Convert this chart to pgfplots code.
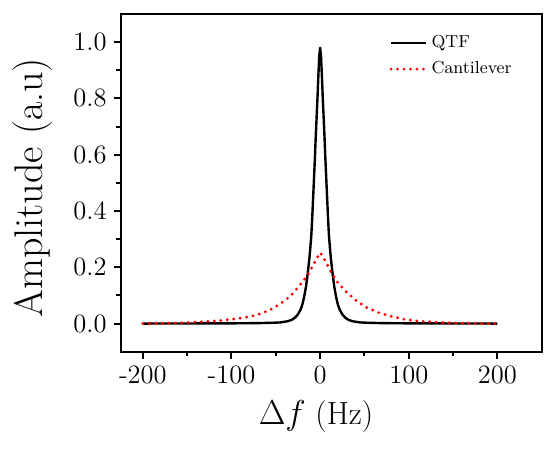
\documentclass[border=0pt]{standalone}
\usepackage{pgfplots}
\pgfplotsset{compat=1.18}
\begin{document}
\begin{tikzpicture}
\useasboundingbox (-60.35pt,-48.65pt) rectangle (214.65pt,175.85pt);
\begin{axis}[
  scale only axis,
  width=210.5pt, height=168.85pt,
  xmin=-225, xmax=250, ymin=-0.1, ymax=1.1,
  axis line style={line width=1pt},
  every tick/.style={line width=1pt, black},
  tick align=outside, tick pos=left,
  major tick length=3.5pt, minor tick length=2.2pt,
  xtick={-200,-100,0,100,200},
  xticklabels={-200,-100,0,100,200},
  minor xtick={-150,-50,50,150},
  ytick={0,0.2,0.4,0.6,0.8,1.0},
  yticklabels={0.0,0.2,0.4,0.6,0.8,1.0},
  minor ytick={0.1,0.3,0.5,0.7,0.9},
  tick label style={font=\fontsize{13.25}{16}\selectfont},
  xlabel={$\Delta f$ (Hz)},
  ylabel={Amplitude (a.u)},
  xlabel style={font=\fontsize{16}{19}\selectfont, at={(axis description cs:0.464,-0.217)}, anchor=base},
  ylabel style={font=\fontsize{20}{24}\selectfont, at={(axis description cs:-0.1846,0.486)}, anchor=base},
  legend style={at={(axis description cs:0.623,0.962)}, anchor=north west, draw=none, fill=none,
    font=\fontsize{8.7}{10}\selectfont, row sep=1.5pt},
  legend cell align=left,
  legend image code/.code={\draw[#1] (0pt,0pt) -- (17.5pt,0pt);},
]
\addplot[black, line width=1.2pt, line join=round] coordinates {
(-200,0) (-150,0.0003) (-100,0.0008) (-70,0.0015) (-52,0.003) (-45,0.004) (-37,0.008) (-32,0.013) (-28,0.022) (-25,0.033) (-22,0.05) (-20,0.068) (-18,0.095) (-16,0.13) (-14,0.178) (-12,0.235) (-10,0.31) (-9,0.37) (-8,0.44) (-7,0.51) (-6,0.58) (-5,0.66) (-4,0.73) (-3,0.80) (-2,0.88) (-1,0.95) (0,0.98)
(1,0.95) (2,0.88) (3,0.80) (4,0.73) (5,0.66) (6,0.58) (7,0.51) (8,0.44) (9,0.37) (10,0.31) (12,0.235) (14,0.178) (16,0.13) (18,0.095) (20,0.068) (22,0.05) (25,0.033) (28,0.022) (32,0.013) (37,0.008) (45,0.004) (52,0.003) (70,0.0015) (100,0.0008) (150,0.0003) (200,0)
};
\addlegendentry{QTF}
\addplot[red, line width=1.6pt, line cap=round, dash pattern=on 0pt off 3.25pt] coordinates {
(-200,0) (-190,0.0005) (-175,0.0012) (-160,0.0022) (-145,0.0045) (-130,0.007) (-115,0.010) (-100,0.015) (-86,0.021) (-72,0.030) (-58,0.046) (-46,0.068) (-34,0.096) (-24,0.132) (-14,0.172) (-7,0.213) (-3,0.236) (0,0.252)
(3,0.238) (7,0.216) (11,0.19) (18.5,0.151) (28,0.117) (40,0.083) (52,0.058) (66,0.039) (81,0.025) (95,0.015) (110,0.009) (125,0.006) (140,0.0035) (162,0.001) (180,0.0004) (200,0)
};
\addlegendentry{Cantilever}
\end{axis}
\end{tikzpicture}
\end{document}
